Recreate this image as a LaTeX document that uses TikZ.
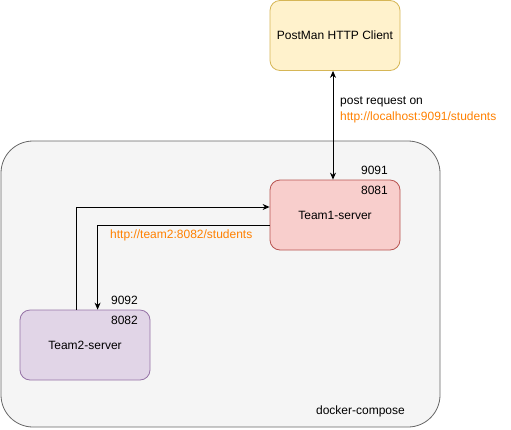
\documentclass[tikz,border=0pt]{standalone}
\usepackage{fontspec}
\setmainfont{Liberation Sans}
\usetikzlibrary{arrows.meta}
\definecolor{linkorange}{HTML}{FF8000}
\definecolor{pmfill}{HTML}{FFF2CC}
\definecolor{pmdraw}{HTML}{D6B656}
\definecolor{tonefill}{HTML}{F8CECC}
\definecolor{tonedraw}{HTML}{B85450}
\definecolor{ttwofill}{HTML}{E1D5E7}
\definecolor{ttwodraw}{HTML}{9673A6}
\definecolor{dcfill}{HTML}{F5F5F5}
\definecolor{dcdraw}{HTML}{666666}
\tikzset{
  server/.style={draw, rounded corners=10pt, line width=0.8pt, minimum width=130pt, minimum height=70pt, inner sep=0pt},
  conn/.style={line width=0.9pt, -{Stealth[length=7pt,width=6pt]}},
  port/.style={anchor=base east, inner sep=0pt}
}
\begin{document}
\begin{tikzpicture}[x=1pt,y=-1pt,font=\fontsize{12}{14}\selectfont]
\useasboundingbox (0,0) rectangle (511,429);
\node[draw=dcdraw, fill=dcfill, rounded corners=32pt, line width=0.8pt, minimum width=439pt, minimum height=286pt, inner sep=0pt] (compose) at (220.5,284) {};
\node[anchor=base east, inner sep=0pt] (composename) at (405,414) {docker-compose};

\node[server, draw=pmdraw, fill=pmfill] (postman) at (335,35.5) {PostMan HTTP Client};
\node[server, draw=tonedraw, fill=tonefill] (team1) at (335,215) {Team1-server};
\node[server, draw=ttwodraw, fill=ttwofill] (team2) at (85,345) {Team2-server};

\node[port] (p9091) at (388,174) {9091};
\node[port] (p8081) at (388,194) {8081};
\node[port] (p9092) at (138,304) {9092};
\node[port] (p8082) at (138,324) {8082};

\draw[line width=0.9pt, {Stealth[length=7pt,width=6pt]}-{Stealth[length=7pt,width=6pt]}] ([xshift=-2pt]postman.south) -- ([xshift=-2pt]team1.north);
\node[anchor=base west, inner sep=0pt] (req) at (340,104) {post request on};
\node[anchor=base west, inner sep=0pt, text=linkorange] (requrl) at (340,120) {http://localhost:9091/students};

\draw[conn] ([xshift=57pt]team2.north west) |- ([yshift=8pt]team1.west);
\draw[conn] ([yshift=-10pt]team1.west) -| ([xshift=78pt]team2.north west);
\node[anchor=base west, inner sep=0pt, text=linkorange] (callurl) at (110,238) {http://team2:8082/students};
\end{tikzpicture}
\end{document}
